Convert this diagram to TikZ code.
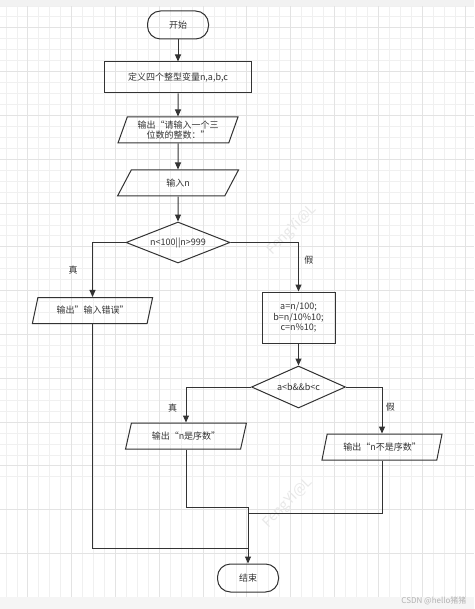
\documentclass[tikz,border=0pt]{standalone}
\usepackage{fontspec}
\setmainfont{Noto Sans CJK SC}
\usetikzlibrary{shapes,arrows.meta,positioning,calc}

\begin{document}
\begin{tikzpicture}[x=1pt,y=-1pt,
  every node/.style={font=\fontsize{9}{10.5}\selectfont, text=black!80},
  terminal/.style={draw=black!80, line width=1pt, rounded corners=13pt, minimum width=61pt, minimum height=28pt},
  process/.style={draw=black!80, line width=1pt, minimum width=147pt, minimum height=31pt},
  io/.style={draw=black!80, line width=1pt, trapezium, trapezium left angle=70, trapezium right angle=110, trapezium stretches=true, minimum width=121pt, minimum height=26pt, inner sep=1pt},
  decision/.style={draw=black!80, line width=1pt, diamond, aspect=2.5, inner sep=0pt},
  flow/.style={draw=black!80, line width=1pt, -{Triangle[length=7pt,width=6pt]}},
  link/.style={draw=black!80, line width=1pt},
  gridline/.style={gray!12, line width=0.5pt},
  watermark/.style={text=gray!18, font=\fontsize{14}{14}\selectfont, rotate=45}
]
\useasboundingbox (0,0) rectangle (474,609);
\fill[white] (0,0) rectangle (474,609);
% Grid
\foreach \i in {0,...,43} {
  \draw[gridline] ({5.8+\i*10.95},0) -- ++(0,609);
  \draw[gridline] (0,{5.8+\i*10.95}) -- ++(474,0);
}
\foreach \i in {0,...,13} {
  \draw[gridline, gray!22] ({27.7+\i*43.8},0) -- ++(0,609);
  \draw[gridline, gray!22] (0,{27.7+\i*43.8}) -- ++(474,0);
}
\fill[gray!10] (0,0) rectangle (474,6);
\fill[gray!8] (0,597) rectangle (474,609);
% Watermarks
\node[watermark] (wm2) at (292,230) {FengYi@L};
\node[watermark] (wm3) at (288,503) {FengYi@L};
\node[text=gray!60, font=\fontsize{8}{9}\selectfont, anchor=east] (csdn) at (470,601) {CSDN @hello猪猪};

% Steps
\node[terminal] (start) at (178,25) {开始};
\node[process] (define) at (178,77.5) {定义四个整型变量n,a,b,c};
\node[io, align=center] (prompt) at (178,130) {输出“请输入一个三\\位数的整数：”};
\node[io] (input) at (178,183) {输入n};
\node[decision, minimum width=104pt, minimum height=41pt] (check) at (178,242.5) {n<100||n>999};
\node[io] (error) at (92.5,310.5) {输出"输入错误"};
\node[draw=black!80, line width=1pt, minimum width=73pt, minimum height=51pt, align=center] (split) at (298.5,317.5) {a=n/100;\\b=n/10\%10;\\c=n\%10;};
\node[decision, minimum width=94pt, minimum height=42pt] (order) at (298.5,387) {a<b\&\&b<c};
\node[io] (yes) at (186,436) {输出“n是序数”};
\node[io] (no) at (382,447) {输出“n不是序数”};
\node[terminal] (stop) at (248,578) {结束};

% Arrows
\draw[flow] (start) -- (define);
\draw[flow] (define) -- (prompt);
\draw[flow] (prompt) -- (input);
\draw[flow] (input) -- (check);
\draw[flow] (check.west) -| node[pos=0.75, left=11pt] (t1) {真} (error.north);
\draw[flow] (check.east) -| node[pos=0.68, right=2pt] (f1) {假} (split.north);
\draw[flow] (split) -- (order);
\draw[flow] (order.west) -| node[pos=0.79, left=5pt] (t2) {真} (yes.north);
\draw[flow] (order.east) -| node[pos=0.72, right=0pt] (f2) {假} (no.north);
% Merge
\coordinate (joinA) at (248,507);
\coordinate (joinB) at (248,513);
\coordinate (joinC) at (248,548);
\draw[link] (yes.south) |- (joinA);
\draw[link] (no.south) |- (joinB);
\draw[link] (error.south) |- (joinC);
\draw[flow] (joinA) -- (stop.north);
\end{tikzpicture}
\end{document}
